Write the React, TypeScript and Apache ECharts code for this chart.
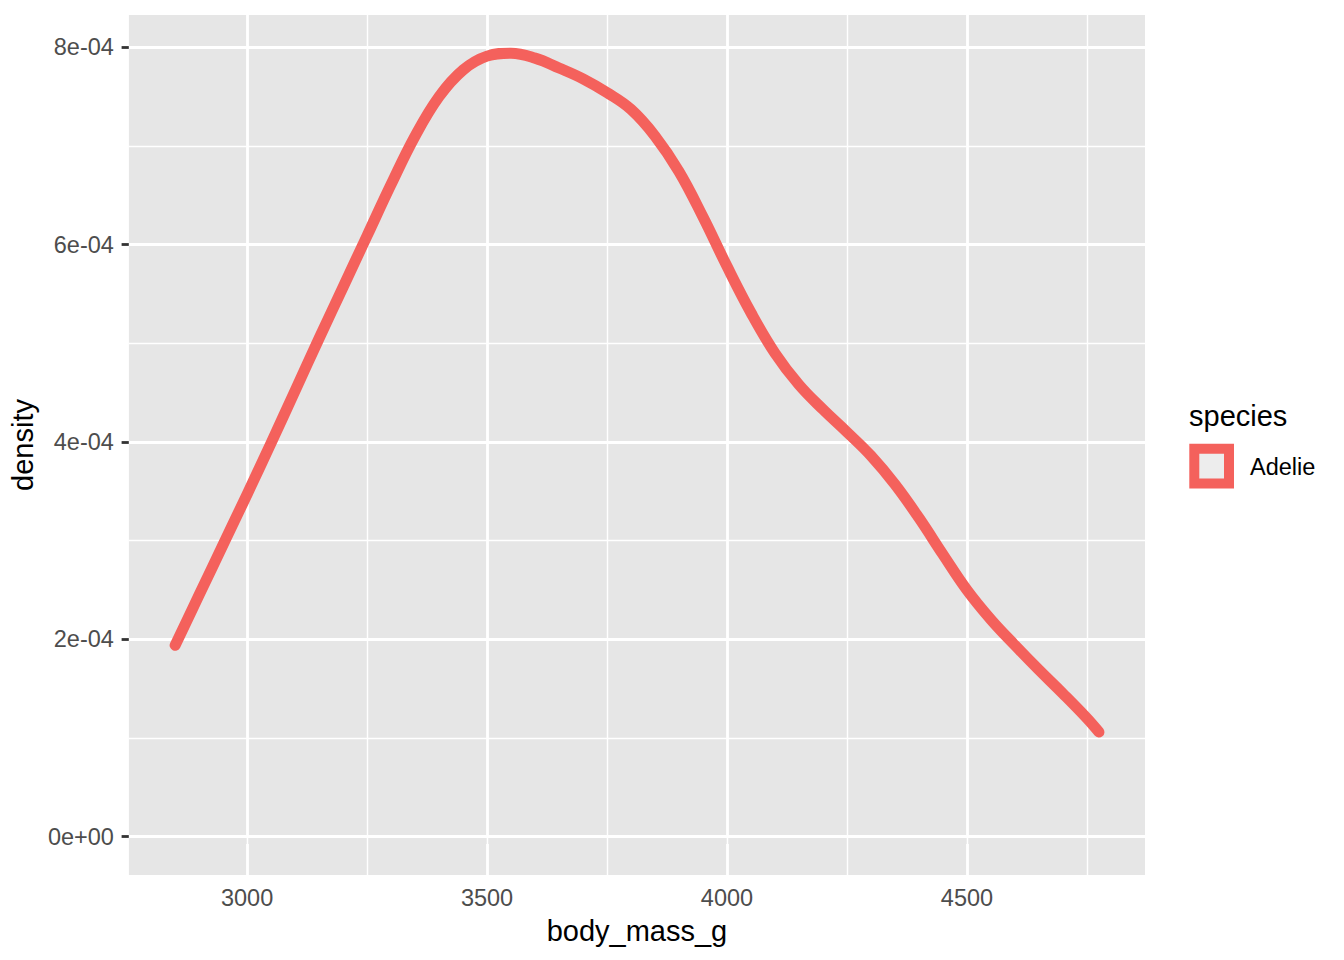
import React, { useEffect, useRef } from "react";
import * as echarts from "echarts";

// ---- data ----
const bodyMass = [
  2850, 2900, 2950, 3000, 3050, 3100, 3150, 3200, 3250, 3300, 3350, 3400, 3450,
  3500, 3550, 3600, 3650, 3700, 3750, 3800, 3850, 3900, 3950, 4000, 4050, 4100,
  4150, 4200, 4250, 4300, 4350, 4400, 4450, 4500, 4550, 4600, 4650, 4700, 4750,
  4775,
];
const densityAdelie = [
  1.94e-4, 2.45e-4, 2.96e-4, 3.47e-4, 3.99e-4, 4.52e-4, 5.05e-4, 5.57e-4,
  6.09e-4, 6.61e-4, 7.1e-4, 7.5e-4, 7.77e-4, 7.91e-4, 7.94e-4, 7.89e-4,
  7.79e-4, 7.68e-4, 7.54e-4, 7.37e-4, 7.1e-4, 6.74e-4, 6.28e-4, 5.78e-4,
  5.31e-4, 4.9e-4, 4.58e-4, 4.33e-4, 4.1e-4, 3.86e-4, 3.57e-4, 3.23e-4,
  2.86e-4, 2.5e-4, 2.2e-4, 1.94e-4, 1.69e-4, 1.45e-4, 1.2e-4, 1.06e-4,
];
const speciesName = "Adelie";
const legendTitle = "species";
const xTitle = "body_mass_g";
const yTitle = "density";

const xMajorTicks = [3000, 3500, 4000, 4500];
const xMinorLines = [3250, 3750, 4250, 4750];
const yMajorTicks = [0, 2e-4, 4e-4, 6e-4, 8e-4];
const yTickLabels = ["0e+00", "2e-04", "4e-04", "6e-04", "8e-04"];
const yMinorLines = [1e-4, 3e-4, 5e-4, 7e-4];

const X_MIN = 2753.7;
const X_MAX = 4871;
const Y_MIN = -0.388e-4;
const Y_MAX = 8.327e-4;

const RED = "#F4615C";
const FONT = "'Liberation Sans', Arial, Helvetica, sans-serif";

export default function App() {
  const ref = useRef<HTMLDivElement>(null);

  useEffect(() => {
    if (!ref.current) return;
    const chart = echarts.init(ref.current, undefined, { renderer: "svg" });

    const gridMarks: any[] = [];
    xMajorTicks.forEach((v) =>
      gridMarks.push({ xAxis: v, lineStyle: { width: 2.8, color: "#FFFFFF", type: "solid" } })
    );
    xMinorLines.forEach((v) =>
      gridMarks.push({ xAxis: v, lineStyle: { width: 1.4, color: "#FFFFFF", type: "solid" } })
    );
    yMajorTicks.forEach((v) =>
      gridMarks.push({ yAxis: v, lineStyle: { width: 2.8, color: "#FFFFFF", type: "solid" } })
    );
    yMinorLines.forEach((v) =>
      gridMarks.push({ yAxis: v, lineStyle: { width: 1.4, color: "#FFFFFF", type: "solid" } })
    );

    const yLabel = (v: number) => {
      for (let i = 0; i < yMajorTicks.length; i++) {
        if (Math.abs(yMajorTicks[i] - v) < 1e-9) return yTickLabels[i];
      }
      return "";
    };

    chart.setOption({
      animation: false,
      backgroundColor: "#FFFFFF",
      grid: {
        left: 128,
        right: 1344 - 1145,
        top: 15,
        bottom: 960 - 875,
        show: true,
        backgroundColor: "#E6E6E6",
        borderWidth: 0,
      },
      xAxis: {
        type: "value",
        min: X_MIN,
        max: X_MAX,
        name: xTitle,
        nameLocation: "middle",
        nameGap: 41,
        nameTextStyle: { fontFamily: FONT, fontSize: 29, color: "#000000", lineHeight: 29 },
        axisLine: { show: false },
        splitLine: { show: false },
        axisTick: {
          show: true,
          customValues: xMajorTicks,
          length: 7.3,
          lineStyle: { color: "#333333", width: 2.8 },
        },
        axisLabel: {
          customValues: xMajorTicks,
          formatter: (v: number) => String(v),
          margin: 11,
          fontFamily: FONT,
          fontSize: 23.5,
          lineHeight: 24,
          color: "#4D4D4D",
        },
      },
      yAxis: {
        type: "value",
        min: Y_MIN,
        max: Y_MAX,
        name: yTitle,
        nameLocation: "middle",
        nameGap: 85,
        nameRotate: 90,
        nameTextStyle: { fontFamily: FONT, fontSize: 29, color: "#000000", lineHeight: 29 },
        axisLine: { show: false },
        splitLine: { show: false },
        axisTick: {
          show: true,
          customValues: yMajorTicks,
          length: 7.3,
          lineStyle: { color: "#333333", width: 2.8 },
        },
        axisLabel: {
          customValues: yMajorTicks,
          formatter: yLabel,
          margin: 15,
          fontFamily: FONT,
          fontSize: 23.5,
          lineHeight: 24,
          color: "#4D4D4D",
        },
      },
      series: [
        {
          name: speciesName,
          type: "line",
          data: bodyMass.map((x, i) => [x, densityAdelie[i]]),
          showSymbol: false,
          smooth: 0.4,
          z: 10,
          lineStyle: { color: RED, width: 11, cap: "round", join: "round" },
          itemStyle: { color: RED },
          markLine: {
            silent: true,
            z: 1,
            precision: 12,
            symbol: ["none", "none"],
            label: { show: false },
            emphasis: { disabled: true },
            data: gridMarks,
          },
        },
      ],
      graphic: [
        {
          type: "text",
          left: 1189,
          top: 401,
          style: {
            text: legendTitle,
            fontFamily: FONT,
            fontSize: 29,
            fill: "#000000",
          },
        },
        {
          type: "rect",
          shape: { x: 1194.3, y: 448.7, width: 34.7, height: 34.7 },
          style: { fill: "#EDEDED", stroke: RED, lineWidth: 10 },
        },
        {
          type: "text",
          left: 1250,
          top: 455,
          style: {
            text: speciesName,
            fontFamily: FONT,
            fontSize: 23.5,
            fill: "#000000",
          },
        },
      ],
    });

    return () => chart.dispose();
  }, []);

  return (
    <div
      ref={ref}
      style={{ position: "fixed", left: 0, top: 0, width: 1344, height: 960 }}
    />
  );
}
